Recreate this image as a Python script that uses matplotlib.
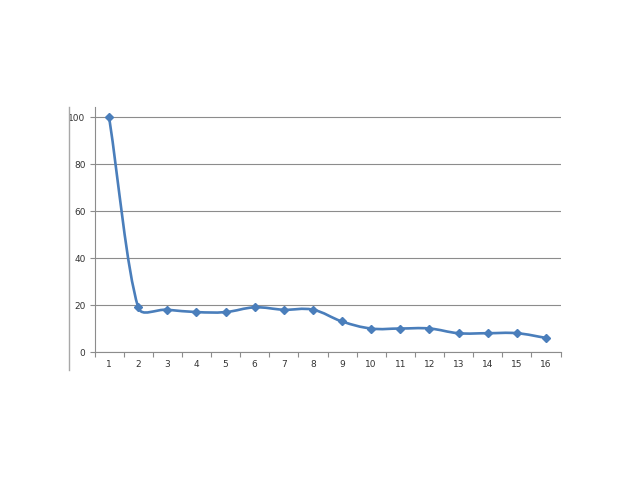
import numpy as np
import matplotlib
matplotlib.use("Agg")
import matplotlib.pyplot as plt
from matplotlib.path import Path
from matplotlib.patches import PathPatch
from matplotlib.lines import Line2D

categories = list(range(1, 17))
values = [100, 19, 18, 17, 17, 19, 18, 18, 13, 10, 10, 10, 8, 8, 8, 6]
y_ticks = [0, 20, 40, 60, 80, 100]

line_color = "#4A7EBB"
grid_color = "#8C8C8C"


def excel_smooth_path(ax, xs, ys, k=0.42, cap=0.2):
    # bezier through the points, tangents weighted by segment length on screen
    pts = np.column_stack([xs, ys]).astype(float)
    scr = ax.transData.transform(pts)
    n = len(pts)
    verts = [pts[0]]
    codes = [Path.MOVETO]
    for i in range(n - 1):
        p0 = pts[max(i - 1, 0)]
        p1 = pts[i]
        p2 = pts[i + 1]
        p3 = pts[min(i + 2, n - 1)]
        s0, s1, s2, s3 = scr[max(i - 1, 0)], scr[i], scr[i + 1], scr[min(i + 2, n - 1)]
        d01 = np.hypot(*(s1 - s0))
        d12 = np.hypot(*(s2 - s1))
        d23 = np.hypot(*(s3 - s2))
        if i > 0:
            c1 = p1 + (p2 - p0) * min(d12 / (d01 + d12) * k, cap)
        else:
            c1 = p1 + (p2 - p1) / 3
        if i < n - 2:
            c2 = p2 - (p3 - p1) * min(d12 / (d12 + d23) * k, cap)
        else:
            c2 = p2 - (p2 - p1) / 3
        verts += [c1, c2, p2]
        codes += [Path.CURVE4] * 3
    return Path(verts, codes)


fig = plt.figure(figsize=(6.38, 4.78), dpi=100)
ax = fig.add_axes([94.5 / 638, 126 / 478, 466 / 638, 245 / 478])

ax.set_xlim(0.5, 16.5)
ax.set_ylim(0, 104.3)

ax.set_yticks(y_ticks)
ax.set_xticks(categories)
ax.set_xticks(np.arange(0.5, 17, 1), minor=True)
ax.grid(axis="y", color=grid_color, linewidth=0.8)
ax.set_axisbelow(True)

for s in ["top", "right"]:
    ax.spines[s].set_visible(False)
for s in ["left", "bottom"]:
    ax.spines[s].set_color(grid_color)
    ax.spines[s].set_linewidth(0.8)

ax.tick_params(axis="x", which="major", length=0, pad=6, labelsize=6.5, labelcolor="#333333")
ax.tick_params(axis="x", which="minor", length=3.5, color=grid_color, width=0.8)
ax.tick_params(axis="y", length=3.5, color=grid_color, width=0.8, pad=3,
               labelsize=6.5, labelcolor="#333333")
for lab in ax.get_xticklabels() + ax.get_yticklabels():
    lab.set_fontfamily("DejaVu Sans")

path = excel_smooth_path(ax, categories, values)
ax.add_patch(PathPatch(path, facecolor="none", edgecolor=line_color,
                       linewidth=1.9, capstyle="round", joinstyle="round", zorder=3))
ax.plot(categories, values, linestyle="none", marker="D", markersize=4.3,
        color=line_color, zorder=4)

# thin vertical border line left of the chart
fig.add_artist(Line2D([69 / 638, 69 / 638], [1 - 107 / 478, 1 - 370 / 478],
                      color="#A8A8A8", linewidth=1.0))

fig.savefig("out.png", dpi=100)
